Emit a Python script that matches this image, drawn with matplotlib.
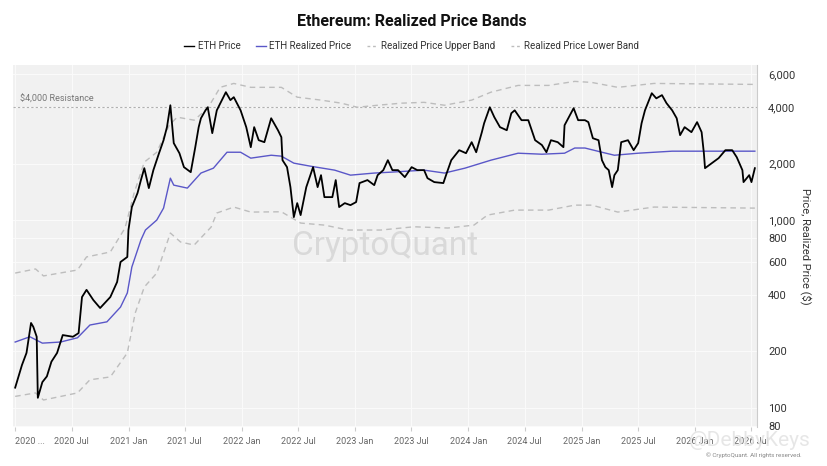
import matplotlib
matplotlib.use("Agg")
import matplotlib.pyplot as plt
import pandas as pd
from matplotlib.lines import Line2D
from matplotlib.ticker import FixedLocator, FuncFormatter, NullLocator

plt.rcParams['font.family'] = ['Roboto', 'DejaVu Sans']

# ETH price (decimal year, USD)
price_t = [2020.00, 2020.06, 2020.10, 2020.14, 2020.16, 2020.19, 2020.20, 2020.24, 2020.28, 2020.32,
           2020.37, 2020.42, 2020.51, 2020.56, 2020.59, 2020.63, 2020.69, 2020.75, 2020.84, 2020.90,
           2020.93, 2020.99, 2021.00, 2021.03, 2021.08, 2021.11, 2021.14, 2021.18, 2021.22, 2021.27,
           2021.31, 2021.34, 2021.37, 2021.40, 2021.45, 2021.49, 2021.55, 2021.59, 2021.62, 2021.64,
           2021.68, 2021.70, 2021.74, 2021.78, 2021.86, 2021.90, 2021.93, 2021.99, 2022.04, 2022.08,
           2022.11, 2022.15, 2022.20, 2022.26, 2022.32, 2022.35, 2022.36, 2022.40, 2022.43, 2022.46,
           2022.49, 2022.52, 2022.57, 2022.63, 2022.67, 2022.70, 2022.73, 2022.80, 2022.83, 2022.86,
           2022.91, 2022.96, 2023.01, 2023.04, 2023.11, 2023.17, 2023.20, 2023.25, 2023.29, 2023.33,
           2023.38, 2023.44, 2023.50, 2023.55, 2023.61, 2023.64, 2023.70, 2023.78, 2023.81, 2023.85,
           2023.92, 2023.98, 2024.03, 2024.07, 2024.12, 2024.14, 2024.19, 2024.23, 2024.28, 2024.34,
           2024.38, 2024.41, 2024.47, 2024.53, 2024.59, 2024.65, 2024.69, 2024.73, 2024.79, 2024.84,
           2024.85, 2024.93, 2024.97, 2025.03, 2025.06, 2025.10, 2025.15, 2025.18, 2025.21, 2025.24,
           2025.27, 2025.29, 2025.32, 2025.35, 2025.41, 2025.46, 2025.50, 2025.53, 2025.56, 2025.62,
           2025.66, 2025.71, 2025.75, 2025.80, 2025.84, 2025.87, 2025.91, 2025.97, 2026.02, 2026.06,
           2026.08, 2026.09, 2026.15, 2026.21, 2026.27, 2026.33, 2026.37, 2026.42, 2026.43, 2026.48,
           2026.50, 2026.53]
price = [128, 169, 196, 283, 270, 239, 113, 137, 147, 176,
         196, 244, 239, 250, 389, 425, 375, 340, 389, 468,
         598, 636, 885, 1173, 1392, 1633, 1890, 1480, 1845, 2271,
         2664, 3126, 4090, 2570, 2271, 1914, 1800, 2445, 3126, 3486,
         3843, 3990, 2904, 3843, 4800, 4355, 4515, 3843, 3126, 2445,
         3126, 2664, 2600, 3486, 3010, 2764, 2085, 1914, 1498, 1037,
         1231, 1063, 1498, 1914, 1498, 1735, 1325, 1325, 1633, 1173,
         1231, 1201, 1247, 1574, 1633, 1535, 1735, 1845, 2085, 1845,
         1845, 1693, 1914, 1845, 1845, 1672, 1593, 1574, 1780, 2085,
         2357, 2271, 2600, 2298, 2940, 3280, 3990, 3533, 3126, 3010,
         3707, 3843, 3405, 3405, 2664, 2510, 2298, 2664, 2600, 2445,
         3200, 3944, 3405, 3405, 3325, 2728, 2664, 2085, 1914, 1845,
         1498, 1735, 1845, 2600, 2664, 2357, 2570, 3280, 3843, 4740,
         4450, 4630, 4195, 3843, 3486, 2834, 3126, 2940, 3325, 2940,
         2271, 1890, 2010, 2137, 2357, 2357, 2163, 1845, 1593, 1735,
         1593, 1890]

# realized price
realized_t = [2020.00, 2020.13, 2020.24, 2020.40, 2020.55, 2020.66, 2020.81, 2020.93, 2020.99, 2021.03,
              2021.11, 2021.15, 2021.25, 2021.31, 2021.37, 2021.40, 2021.52, 2021.64, 2021.75, 2021.87,
              2021.99, 2022.08, 2022.14, 2022.26, 2022.35, 2022.46, 2022.61, 2022.82, 2022.96, 2023.17,
              2023.32, 2023.61, 2023.79, 2023.97, 2024.20, 2024.44, 2024.65, 2024.85, 2024.94, 2025.03,
              2025.18, 2025.29, 2025.50, 2025.80, 2026.09, 2026.53]
realized = [224, 239, 221, 224, 236, 276, 287, 344, 409, 562,
            783, 885, 1000, 1158, 1672, 1535, 1480, 1780, 1890, 2298,
            2298, 2137, 2163, 2215, 2190, 2010, 1935, 1845, 1735, 1780,
            1800, 1845, 1780, 1890, 2085, 2271, 2243, 2271, 2420, 2420,
            2298, 2215, 2271, 2328, 2328, 2328]

# upper band
upper_t = [2020.00, 2020.18, 2020.25, 2020.55, 2020.63, 2020.84, 2020.97, 2021.05, 2021.14, 2021.25,
           2021.36, 2021.43, 2021.58, 2021.70, 2021.81, 2021.93, 2022.08, 2022.35, 2022.49, 2022.70,
           2022.88, 2023.02, 2023.20, 2023.41, 2023.61, 2023.79, 2024.03, 2024.20, 2024.44, 2024.71,
           2024.94, 2025.09, 2025.32, 2025.64, 2026.53]
upper = [522, 549, 504, 542, 636, 676, 907, 1392, 2036, 2298,
         3200, 3533, 3405, 3944, 5094, 5344, 5094, 5094, 4515, 4355,
         4195, 3990, 4090, 4195, 4238, 4090, 4355, 4800, 5216, 5216,
         5480, 5410, 5094, 5344, 5280]

# lower band
lower_t = [2020.00, 2020.18, 2020.25, 2020.55, 2020.66, 2020.84, 2020.99, 2021.06, 2021.14, 2021.25,
           2021.37, 2021.46, 2021.58, 2021.73, 2021.78, 2021.93, 2022.08, 2022.35, 2022.52, 2022.73,
           2022.94, 2023.23, 2023.52, 2023.82, 2024.05, 2024.17, 2024.41, 2024.71, 2024.94, 2025.09,
           2025.32, 2025.64, 2026.53]
lower = [115, 120, 110, 120, 141, 146, 196, 320, 440, 522,
         853, 764, 736, 918, 1090, 1173, 1103, 1107, 964, 940,
         885, 885, 921, 907, 940, 1063, 1130, 1130, 1201, 1201,
         1103, 1173, 1158]

y_ticks = [80, 100, 200, 400, 600, 800, 1000, 2000, 4000, 6000]
x_tick_labels = ["2020 ...", "2020 Jul", "2021 Jan", "2021 Jul", "2022 Jan", "2022 Jul", "2023 Jan",
                 "2023 Jul", "2024 Jan", "2024 Jul", "2025 Jan", "2025 Jul", "2026 Jan", "2026 Jul"]
resistance = 4000


def to_dates(years):
    start = pd.Timestamp("2020-01-01")
    return [start + pd.Timedelta(days=(y - 2020) * 365.25) for y in years]


fig = plt.figure(figsize=(8.28, 4.66), dpi=100)
ax = fig.add_axes([13 / 828, 1 - 427 / 466, 744 / 828, 362 / 466])
ax.set_facecolor("#f1f1f1")

grey = "#bdbdbd"
ax.plot(to_dates(upper_t), upper, color=grey, lw=1.0, ls=(0, (4, 3)), zorder=2)
ax.plot(to_dates(lower_t), lower, color=grey, lw=1.0, ls=(0, (4, 3)), zorder=2)
ax.plot(to_dates(realized_t), realized, color="#5a57c8", lw=1.0, zorder=3)
ax.plot(to_dates(price_t), price, color="black", lw=1.3, zorder=4)

ax.axhline(resistance, color="#b0b0b0", lw=0.8, ls=(0, (2, 2)), zorder=1)
ax.text(pd.Timestamp("2020-01-15"), resistance * 1.04, "$4,000 Resistance",
        fontsize=6.5, color="#777777", va="bottom", ha="left")

ax.text(0.5, 0.5, "CryptoQuant", transform=ax.transAxes, fontsize=24,
        color="#d9d9d9", ha="center", va="center", zorder=1)

ax.set_yscale("log")
ax.set_ylim(79, 6700)
ax.set_xlim(pd.Timestamp("2019-12-25"), pd.Timestamp("2026-07-20"))

ax.yaxis.tick_right()
ax.yaxis.set_label_position("right")
ax.yaxis.set_major_locator(FixedLocator(y_ticks))
ax.yaxis.set_minor_locator(NullLocator())
ax.yaxis.set_major_formatter(FuncFormatter(lambda v, p: f"{v:,.0f}"))
ax.tick_params(axis="y", length=0, pad=8, labelsize=8, labelcolor="#333333")

x_ticks = pd.date_range("2020-01-01", "2026-07-01", freq="6MS")
ax.set_xticks(x_ticks)
ax.set_xticklabels(x_tick_labels)
ax.tick_params(axis="x", length=3, color="#cccccc", labelsize=6.5, labelcolor="#666666", pad=4)
ax.get_xticklabels()[0].set_ha("left")

ax.grid(True, color="#fafafa", lw=0.8)
ax.set_axisbelow(True)
for s in ["top", "left", "bottom"]:
    ax.spines[s].set_visible(False)
ax.spines["right"].set_color("#cccccc")

ax.set_ylabel("Price, Realized Price ($)", rotation=270, labelpad=12, fontsize=8, color="#333333")

fig.text(0.497, 1 - 22 / 466, "Ethereum: Realized Price Bands", ha="center", va="center",
         fontsize=11.5, fontweight="bold", color="#111111")

handles = [
    Line2D([0], [0], color="black", lw=1),
    Line2D([0], [0], color="#5a57c8", lw=1),
    Line2D([0], [0], color=grey, lw=1, ls=(0, (2, 2))),
    Line2D([0], [0], color=grey, lw=1, ls=(0, (2, 2))),
]
labels = ["ETH Price", "ETH Realized Price", "Realized Price Upper Band", "Realized Price Lower Band"]
fig.legend(handles, labels, loc="center", bbox_to_anchor=(0.497, 1 - 46 / 466), ncol=4,
           frameon=False, fontsize=7, handlelength=1.0, handletextpad=0.4, columnspacing=1.6,
           labelcolor="#333333")

# overlay watermark and copyright line as in the source image
fig.text(0.905, 1 - 440 / 466, "@DebbyKeys", ha="center", va="center", fontsize=15,
         color="#e4e4e4", alpha=0.9)
fig.text(0.91, 1 - 455 / 466, "© CryptoQuant. All rights reserved.", ha="center", va="center",
         fontsize=4.5, color="#888888")

fig.savefig("out.png", dpi=100)
